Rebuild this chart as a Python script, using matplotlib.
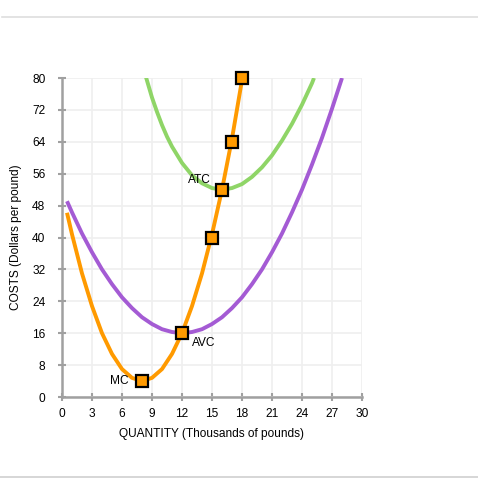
import matplotlib
matplotlib.use("Agg")
import matplotlib.pyplot as plt
from matplotlib.lines import Line2D

plt.rcParams["font.family"] = ["Liberation Sans", "DejaVu Sans"]

# values
mc_q = [0.5, 1, 2, 3, 4, 5, 6, 7, 8, 9, 10, 11, 12, 13, 14, 15, 16, 17, 18]
mc_cost = [46.2, 40.8, 31, 22.8, 16, 10.8, 7, 4.8, 4, 4.8, 7, 10.8, 16, 22.8, 31, 40.8, 52, 64.8, 79.5]

avc_q = [0.5, 1, 2, 3, 4, 5, 6, 7, 8, 9, 10, 11, 12, 13, 14, 15, 16, 17, 18, 19,
         20, 21, 22, 23, 24, 25, 26, 27, 28]
avc_cost = [49.1, 46.3, 41, 36.3, 32, 28.3, 25, 22.3, 20, 18.3, 17, 16.3, 16, 16.3,
            17, 18.3, 20, 22.3, 25, 28.3, 32, 36.3, 41, 46.3, 52, 58.3, 65, 72.3, 80]

atc_q = [8.4, 9, 9.5, 10, 10.5, 11, 12, 13, 14, 15, 16, 17, 18, 19, 20, 21, 22,
         23, 24, 25, 25.2]
atc_cost = [80.2, 75.1, 71.5, 68.2, 65.3, 62.8, 58.7, 55.6, 53.6, 52.4, 52, 52.4,
            53.4, 55.2, 57.6, 60.6, 64.3, 68.5, 73.3, 78.7, 80]

point_q = [8, 12, 15, 16, 17, 18]
point_cost = [4, 16, 40, 52, 64, 80]

x_ticks = list(range(0, 31, 3))
y_ticks = list(range(0, 81, 8))

ORANGE = "#ff9a00"
GREEN = "#8fd567"
PURPLE = "#a45bd4"
AXIS_GRAY = "#a0a0a0"
FS = 8.6

fig = plt.figure(figsize=(4.78, 4.98), dpi=100)
ax = fig.add_axes([62 / 478, 101 / 498, 300 / 478, 319 / 498])

ax.set_xlim(0, 30)
ax.set_ylim(0, 80)
ax.set_xticks(x_ticks)
ax.set_yticks(y_ticks)
ax.grid(True, color="#efefef", linewidth=1.2)
ax.set_axisbelow(True)

for side in ["top", "right"]:
    ax.spines[side].set_visible(False)
for side in ["left", "bottom"]:
    ax.spines[side].set_color(AXIS_GRAY)
    ax.spines[side].set_linewidth(1.8)

ax.tick_params(axis="both", direction="inout", length=6, width=1.5,
               color=AXIS_GRAY, labelsize=FS, labelcolor="black")
ax.tick_params(axis="x", pad=5)
ax.tick_params(axis="y", pad=9)

ax.plot(atc_q, atc_cost, color=GREEN, linewidth=2.8, solid_capstyle="butt",
        solid_joinstyle="round")
ax.plot(avc_q, avc_cost, color=PURPLE, linewidth=2.8, solid_capstyle="butt",
        solid_joinstyle="round")
ax.plot(mc_q, mc_cost, color=ORANGE, linewidth=2.8, solid_capstyle="butt",
        solid_joinstyle="round")
ax.plot(point_q, point_cost, linestyle="none", marker="s", markersize=8.5,
        markerfacecolor=ORANGE, markeredgecolor="black", markeredgewidth=1.6,
        clip_on=False, zorder=5)

ax.text(14.9, 54.5, "ATC", fontsize=FS, ha="right", va="center")
ax.text(13.0, 13.5, "AVC", fontsize=FS, ha="left", va="center")
ax.text(6.7, 3.9, "MC", fontsize=FS, ha="right", va="center")

ax.set_xlabel("QUANTITY (Thousands of pounds)", fontsize=FS, labelpad=6)
ax.set_ylabel("COSTS (Dollars per pound)", fontsize=FS, labelpad=7)

# card borders
fig.add_artist(Line2D([2 / 478, 1], [1 - 17 / 498, 1 - 17 / 498],
                      color="#dedede", linewidth=1.2))
fig.add_artist(Line2D([0, 1], [1 - 477 / 498, 1 - 477 / 498],
                      color="#d0d0d0", linewidth=1.2))

fig.savefig("out.png", dpi=100)
